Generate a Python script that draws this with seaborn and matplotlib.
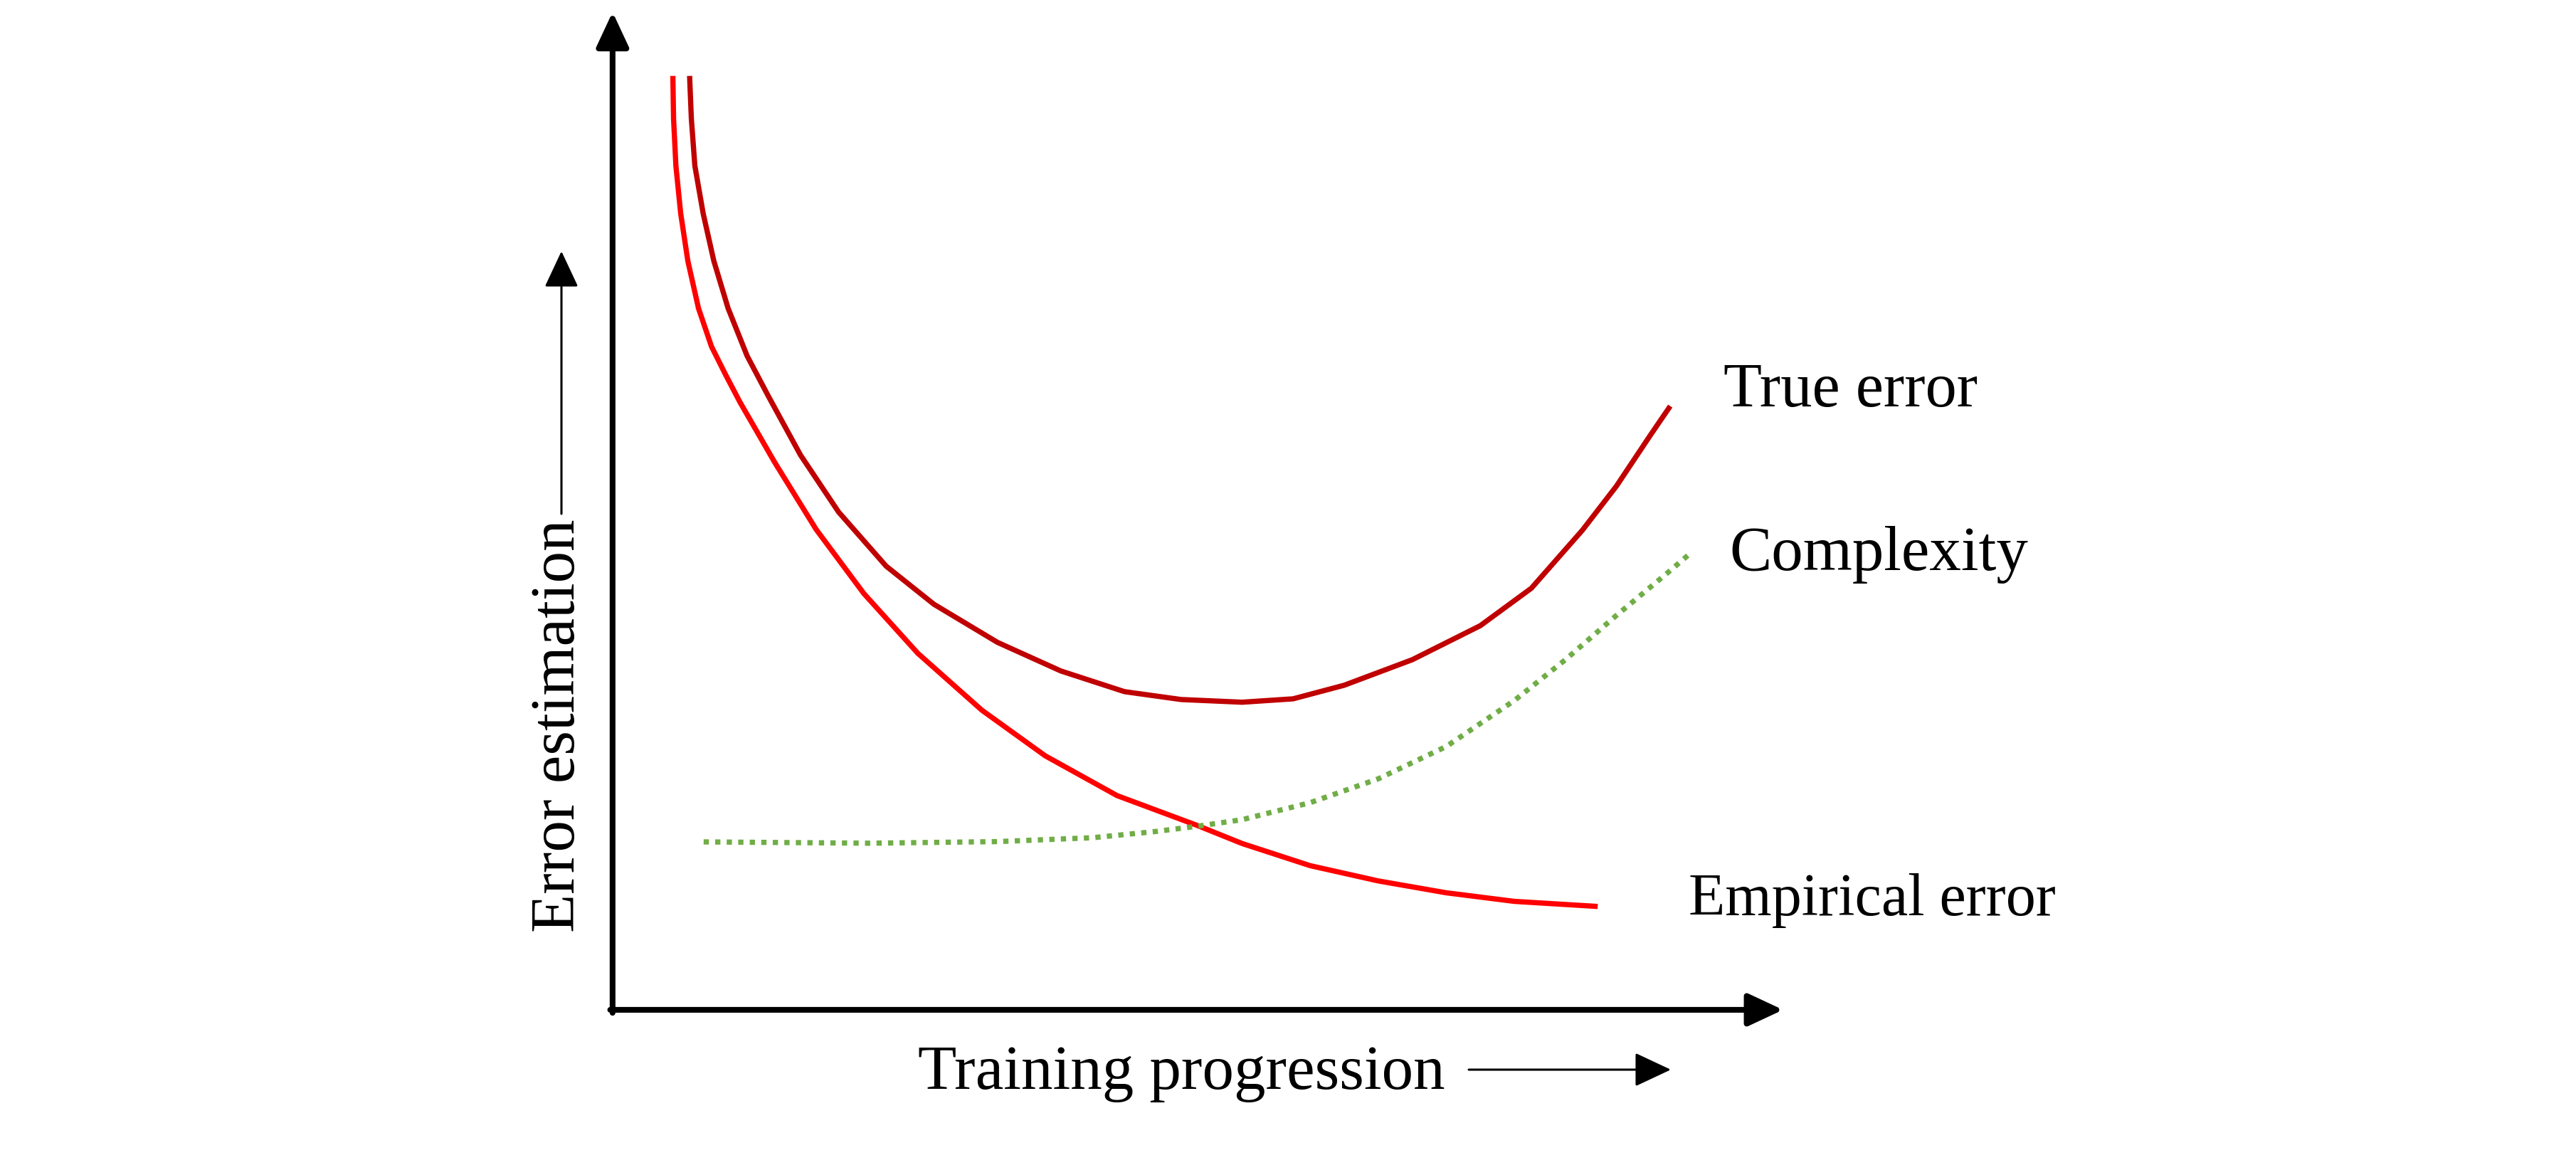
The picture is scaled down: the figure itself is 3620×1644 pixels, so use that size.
import numpy as np
import pandas as pd
import matplotlib.pyplot as plt
import seaborn as sns

# curve values (x: training progression, y: error estimation)
empirical_x = [5.15, 5.21, 5.41, 5.82, 6.43, 7.34, 8.45, 9.67, 10.88, 13.86, 17.39, 21.46,
               26.08, 31.55, 36.96, 43.1, 49.97, 53.78, 59.59, 65.41, 71.22, 77.04, 84.16]
empirical_y = [93.6, 89.32, 84.59, 79.81, 75.06, 70.31, 66.48, 63.62, 60.91, 54.85, 48.15, 41.73,
               35.73, 30.03, 25.46, 21.47, 18.47, 16.67, 14.45, 12.92, 11.73, 10.87, 10.36]

true_x = [6.58, 6.73, 7.03, 7.74, 8.65, 9.87, 11.49, 13.31, 16.05, 19.31, 23.37, 27.45,
          32.88, 38.3, 43.73, 48.57, 53.78, 58.14, 62.5, 68.32, 74.13, 78.49, 82.86, 85.76, 88.67, 90.36]
true_y = [93.6, 89.32, 84.59, 79.81, 75.06, 70.31, 65.55, 61.5, 55.61, 49.89, 44.47, 40.65,
          36.83, 33.96, 31.89, 31.1, 30.83, 31.17, 32.53, 35.09, 38.5, 42.25, 48.08, 52.49, 57.61, 60.51]

complexity_x = [7.78, 22.01, 32.88, 41.02, 46.44, 49.97, 53.78, 59.59, 65.41, 71.22, 77.04,
                81.4, 85.76, 90.12, 92.16]
complexity_y = [16.83, 16.7, 16.86, 17.25, 17.88, 18.4, 19.06, 20.76, 23.15, 26.39, 31.0,
                35.09, 39.53, 43.79, 45.84]

curve_labels = ["True error", "Complexity", "Empirical error"]
x_label = "Training progression"
y_label = "Error estimation"

sns.set_theme(style="white")
plt.rcParams["font.family"] = ["Liberation Serif", "DejaVu Serif"]
plt.rcParams["text.color"] = "black"

fig = plt.figure(figsize=(36.2, 16.44), dpi=100)
ax = fig.add_axes([0.2378, 0.1369, 0.4544, 0.8528])
ax.set_xlim(0, 100)
ax.set_ylim(0, 100)
ax.axis("off")

df_emp = pd.DataFrame({"x": empirical_x, "y": empirical_y})
df_true = pd.DataFrame({"x": true_x, "y": true_y})
df_cplx = pd.DataFrame({"x": complexity_x, "y": complexity_y})

sns.lineplot(data=df_emp, x="x", y="y", ax=ax, color="#FF0000", linewidth=5.3,
             solid_capstyle="butt", solid_joinstyle="round")
sns.lineplot(data=df_true, x="x", y="y", ax=ax, color="#C00000", linewidth=5.3,
             solid_capstyle="butt", solid_joinstyle="round")
sns.lineplot(data=df_cplx, x="x", y="y", ax=ax, color="#70AD47", linewidth=5.3,
             linestyle=(0, (1, 1.2)), dash_capstyle="butt")

# axes drawn as arrows
axis_arrow = dict(arrowstyle="-|>,head_length=30,head_width=14", mutation_scale=1,
                  lw=5.8, color="black", shrinkA=0, shrinkB=0)
ax.annotate("", xy=(0, 1), xytext=(0, -0.003), xycoords="axes fraction",
            arrowprops=axis_arrow)
ax.annotate("", xy=(1, 0), xytext=(-0.002, 0), xycoords="axes fraction",
            arrowprops=axis_arrow)

small_arrow = dict(arrowstyle="-|>,head_length=32,head_width=15", mutation_scale=1,
                   lw=2.2, color="black", shrinkA=0, shrinkB=0)
ax.annotate("", xy=(2348 / 3620, 1 - 1503 / 1644), xytext=(2064 / 3620, 1 - 1503 / 1644),
            xycoords="figure fraction", arrowprops=small_arrow, annotation_clip=False)
ax.annotate("", xy=(789 / 3620, 1 - 353 / 1644), xytext=(789 / 3620, 1 - 722 / 1644),
            xycoords="figure fraction", arrowprops=small_arrow, annotation_clip=False)

fig.text(1290 / 3620, 1 - 1530 / 1644, x_label, fontsize=64, ha="left", va="baseline")
fig.text(807 / 3620, 1 - 1020 / 1644, y_label, fontsize=64, rotation=90,
         rotation_mode="anchor", ha="center", va="baseline")

label_pos = [(2422, 571), (2430, 801), (2373, 1286)]
label_size = [63.5, 64, 60.5]
for lab, (px, py), s in zip(curve_labels, label_pos, label_size):
    fig.text(px / 3620, 1 - py / 1644, lab, fontsize=s, ha="left", va="baseline")

fig.savefig("out.png", dpi=100, facecolor="white")
